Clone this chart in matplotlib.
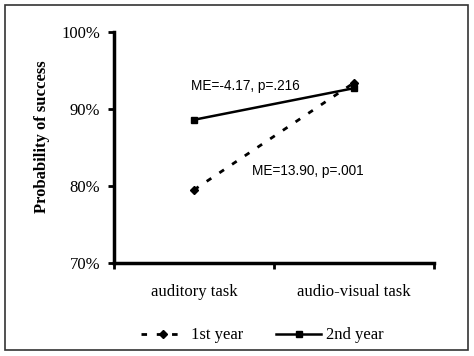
import numpy as np
import matplotlib.pyplot as plt
from matplotlib.patches import Rectangle

tasks = ["auditory task", "audio-visual task"]
first_year = [79.5, 93.4]
second_year = [88.6, 92.7]
yticks = [70, 80, 90, 100]
annotations = [("ME=-4.17, p=.216", -0.02, 93.0), ("ME=13.90, p=.001", 0.36, 81.9)]

serif = "Liberation Serif"
sans = "Liberation Sans"

fig = plt.figure(figsize=(4.74, 3.56), dpi=100)
ax = fig.add_axes([0.2405, 0.2612, 0.675, 0.649])

x = np.arange(len(tasks))
ax.plot(x, first_year, color="black", linestyle=(0, (2, 3.5)), linewidth=2,
        marker="D", markersize=4.5, label="1st year")
ax.plot(x, second_year, color="black", linestyle="-", linewidth=1.8,
        marker="s", markersize=5, label="2nd year")

for text, tx, ty in annotations:
    ax.text(tx, ty, text, fontsize=9.8, family=sans, ha="left", va="center")

ax.set_xlim(-0.5, 1.5)
ax.set_ylim(70, 100)
ax.set_yticks(yticks)
ax.set_yticklabels([f"{v}%" for v in yticks], family=serif, fontsize=12)
ax.set_xticks([-0.5, 0.5, 1.5])
ax.set_xticklabels([])
ax.set_xticks(x, minor=True)
ax.set_xticklabels(tasks, minor=True, family=serif, fontsize=12)
ax.tick_params(axis="x", which="minor", length=0, pad=15)
ax.tick_params(axis="both", which="major", length=4, width=2, direction="out")
ax.tick_params(axis="y", pad=6)

for s in ["top", "right"]:
    ax.spines[s].set_visible(False)
for s in ["left", "bottom"]:
    ax.spines[s].set_linewidth(2.5)

ax.set_ylabel("Probability of success", family=serif, fontweight="bold",
              fontsize=12)
ax.yaxis.set_label_coords(-0.20, 0.545)

leg = fig.legend(loc="center", bbox_to_anchor=(0.553, 0.058), ncol=2, frameon=False,
                 prop={"family": serif, "size": 12}, handlelength=2.7,
                 columnspacing=2.0, handletextpad=0.3)

fig.patches.append(Rectangle((0.011, 0.017), 0.977, 0.968, transform=fig.transFigure,
                             fill=False, edgecolor="#333333", linewidth=1.2))

fig.savefig("out.png", dpi=100)
